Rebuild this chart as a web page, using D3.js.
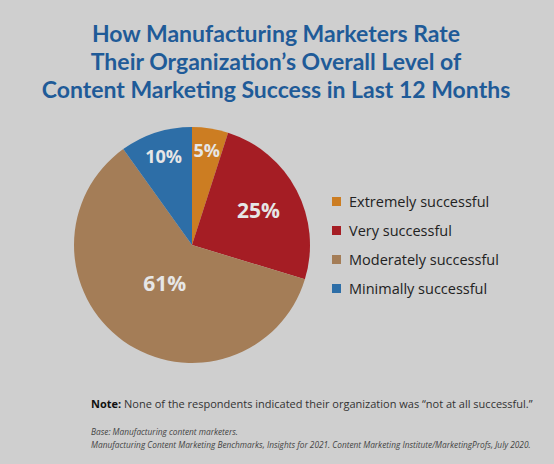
<!DOCTYPE html>
<html>
<head>
<meta charset="utf-8">
<script src="https://cdn.jsdelivr.net/npm/d3@7"></script>
<style>
  html, body { margin: 0; padding: 0; background: #cfcfcf; }
  svg { display: block; }
</style>
</head>
<body>
<div id="chart"></div>
<script>
// chart data
const categories = ["Extremely successful", "Very successful", "Moderately successful", "Minimally successful"];
const values = [5, 25, 61, 10];
const titleLines = [
  "How Manufacturing Marketers Rate",
  "Their Organization\u2019s Overall Level of",
  "Content Marketing Success in Last 12 Months"
];

const width = 554, height = 464;
const cx = 192, cy = 245, radius = 118;
// label distance from centre, one per slice
const labelRadius = [95, 75, 47, 93];

const colour = d3.scaleOrdinal()
  .domain(categories)
  .range(["#cc7d22", "#a51d24", "#a47d57", "#2d6ea7"]);

const svg = d3.select("#chart")
  .append("svg")
    .attr("width", width)
    .attr("height", height);

svg.append("rect")
  .attr("width", width)
  .attr("height", height)
  .attr("fill", "#cfcfcf");

// title
svg.append("g")
  .selectAll("text")
  .data(titleLines)
  .join("text")
    .attr("x", 276)
    .attr("y", (d, i) => 42 + i * 28)
    .attr("text-anchor", "middle")
    .style("font-family", "Lato, sans-serif")
    .style("font-weight", "bold")
    .style("font-size", "23px")
    .style("fill", "#1f5b98")
    .text(d => d);

// pie
const pie = d3.pie().sort(null).value(d => d.value);
const arcs = pie(categories.map((c, i) => ({ name: c, value: values[i] })));
const arc = d3.arc().innerRadius(0).outerRadius(radius);

const pieGroup = svg.append("g")
  .attr("transform", `translate(${cx},${cy})`);

pieGroup.selectAll("path")
  .data(arcs)
  .join("path")
    .attr("d", arc)
    .attr("fill", d => colour(d.data.name));

pieGroup.selectAll("text")
  .data(arcs)
  .join("text")
    .attr("transform", (d, i) => {
      const c = d3.arc().innerRadius(labelRadius[i]).outerRadius(labelRadius[i]).centroid(d);
      return `translate(${c})`;
    })
    .attr("text-anchor", "middle")
    .attr("dy", "0.35em")
    .style("font-family", "'Open Sans', sans-serif")
    .style("font-weight", "bold")
    .style("font-size", d => d.data.value >= 20 ? "21px" : "18px")
    .style("fill", "#e6e6e6")
    .text(d => d.data.value + "%");

// legend
const legend = svg.append("g")
  .attr("transform", "translate(332, 202)");

const items = legend.selectAll("g")
  .data(categories)
  .join("g")
    .attr("transform", (d, i) => `translate(0, ${i * 29})`);

items.append("rect")
  .attr("x", 0)
  .attr("y", -5)
  .attr("width", 9)
  .attr("height", 9)
  .attr("fill", d => colour(d));

items.append("text")
  .attr("x", 17)
  .attr("y", 0)
  .attr("dy", "0.35em")
  .style("font-family", "'Open Sans', sans-serif")
  .style("font-size", "14.5px")
  .style("fill", "#222")
  .text(d => d);

// note and source
const note = svg.append("text")
  .attr("x", 91)
  .attr("y", 408)
  .style("font-family", "'Open Sans', sans-serif")
  .style("font-size", "11px")
  .style("fill", "#333");
note.append("tspan").style("font-weight", "bold").style("fill", "#111").text("Note:");
note.append("tspan").text(" None of the respondents indicated their organization was \u201cnot at all successful.\u201d");

svg.append("text")
  .attr("x", 91)
  .attr("y", 435)
  .style("font-family", "'Open Sans', sans-serif")
  .style("font-style", "italic")
  .style("font-size", "8.3px")
  .style("fill", "#444")
  .text("Base: Manufacturing content marketers.");

svg.append("text")
  .attr("x", 91)
  .attr("y", 448)
  .style("font-family", "'Open Sans', sans-serif")
  .style("font-style", "italic")
  .style("font-size", "8.3px")
  .style("fill", "#444")
  .text("Manufacturing Content Marketing Benchmarks, Insights for 2021. Content Marketing Institute/MarketingProfs, July 2020.");
</script>
</body>
</html>
